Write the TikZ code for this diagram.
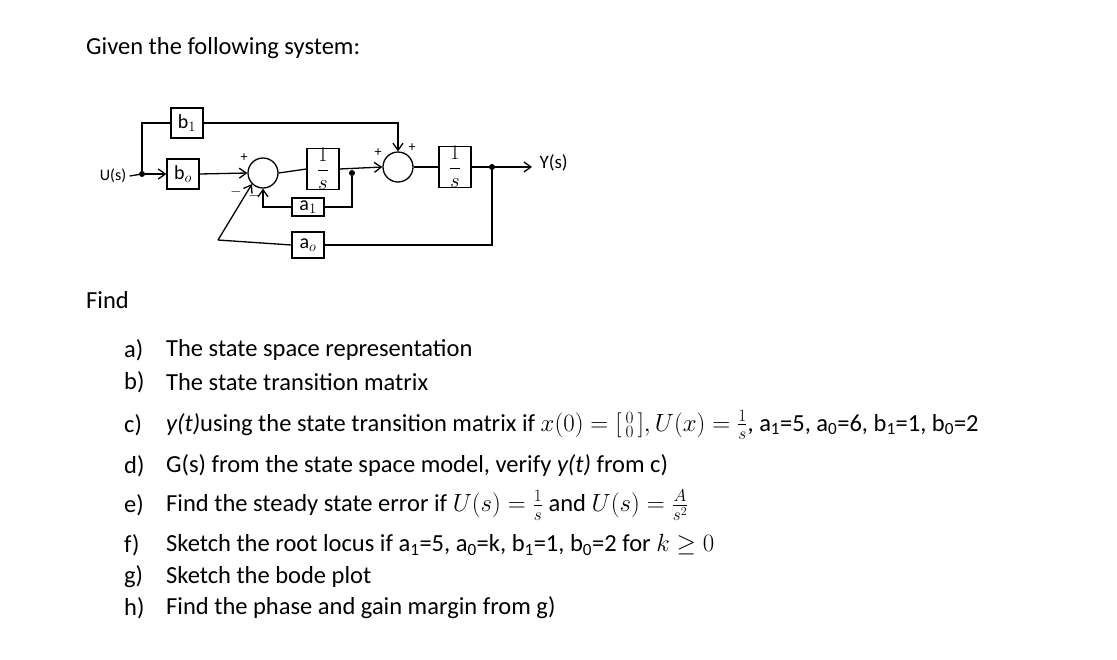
\documentclass[tikz,border=0pt]{standalone}
\usepackage{amsmath}
\usepackage{fontspec}
\setmainfont{Carlito}
\usetikzlibrary{arrows.meta}
\begin{document}
\begin{tikzpicture}[x=1pt,y=-1pt,
  blk/.style={draw,line width=1.3pt,minimum width=32pt,minimum height=30pt,inner sep=0pt,font=\fontsize{20}{20}\selectfont},
  sm/.style={draw,circle,line width=1.3pt,minimum size=30pt,inner sep=0pt},
  ln/.style={line width=1.3pt},
  ar/.style={ln,-{Straight Barb[length=7pt,width=10pt]}},
  dt/.style={circle,fill,inner sep=0pt,minimum size=6pt},
  tx/.style={anchor=west,font=\fontsize{24.5}{28}\selectfont,inner sep=0pt},
  sg/.style={font=\fontsize{14}{14}\selectfont,inner sep=0pt}]
\useasboundingbox (0,0) rectangle (1117,659);
\node[tx] (t0) at (86,48) {Given the following system:};
% diagram
\node[font=\fontsize{16}{16}\selectfont] (u) at (113,176) {U(s)};
\node[dt] (j1) at (142,174) {};
\node[blk] (b1) at (187,123) {b$_1$};
\node[blk] (b0) at (183,174) {b$_o$};
\node[sm] (s1) at (263,173) {};
\node[blk,minimum height=38pt] (i1) at (323,169) {$\dfrac{1}{s}$};
\node[dt] (j2) at (352,173) {};
\node[blk,minimum height=18pt] (a1) at (308,207) {a$_1$};
\node[sm] (s2) at (398,167) {};
\node[blk,minimum height=38pt] (i2) at (455,167) {$\dfrac{1}{s}$};
\node[dt] (j3) at (492,167) {};
\node[blk,minimum height=26pt] (a0) at (308,245) {a$_o$};
\node[font=\fontsize{19}{19}\selectfont,anchor=west] (y) at (536,163) {Y(s)};
\coordinate (yend) at (532,167);
\draw[ln] (u.east) -- (j1);
\draw[ar] (j1) -- (b0.west);
\draw[ln] (j1) |- (b1.west);
\draw[ar] (b1.east) -| (s2.north);
\draw[ar] (b0.east) -- (s1.west);
\draw[ln] (s1.east) -- (i1.west);
\draw[ar] (i1.east) -- (s2.west);
\draw[ln] (j2) |- (a1.east);
\draw[ar] (a1.west) -| (s1.south);
\draw[ln] (s2.east) -- (i2.west);
\draw[ar] (i2.east) -- (yend);
\draw[ln] (j3) |- (a0.east);
\coordinate (lc) at (218,240);
\draw[ln] (a0.west) -- (lc);
\draw[ar] (lc) -- (s1.south west);
\node[sg] at (244,158) {+};
\node[sg] at (236,192) {$-$};
\node[sg] at (254,196) {$-$};
\node[sg] at (378,153) {+};
\node[sg] at (412,148) {+};
% text
\node[tx] (f) at (86,300) {Find};
\node[tx] (la) at (124,350) {a)};
\node[tx] (ta) at (166,350) {The state space representation};
\node[tx] (lb) at (124,382) {b)};
\node[tx] (tb) at (166,382) {The state transition matrix};
\node[tx] (lc1) at (124,425) {c)};
\node[tx] (tc) at (166,425) {\textit{y(t)}using the state transition matrix if $x(0)=\left[\begin{smallmatrix}0\\0\end{smallmatrix}\right]\!,U(x)=\frac{1}{s}$, a\textsubscript{1}=5, a\textsubscript{0}=6, b\textsubscript{1}=1, b\textsubscript{0}=2};
\node[tx] (ld) at (124,466) {d)};
\node[tx] (td) at (166,466) {G(s) from the state space model, verify \textit{y(t)} from c)};
\node[tx] (le) at (124,505) {e)};
\node[tx] (te) at (166,505) {Find the steady state error if $U(s)=\frac{1}{s}$ and $U(s)=\frac{A}{s^2}$};
\node[tx] (lf) at (124,545) {f)};
\node[tx] (tf) at (166,545) {Sketch the root locus if a\textsubscript{1}=5, a\textsubscript{0}=k, b\textsubscript{1}=1, b\textsubscript{0}=2 for $k\geq 0$};
\node[tx] (lg) at (124,577) {g)};
\node[tx] (tg) at (166,577) {Sketch the bode plot};
\node[tx] (lh) at (124,608) {h)};
\node[tx] (th) at (166,608) {Find the phase and gain margin from g)};
\end{tikzpicture}
\end{document}
